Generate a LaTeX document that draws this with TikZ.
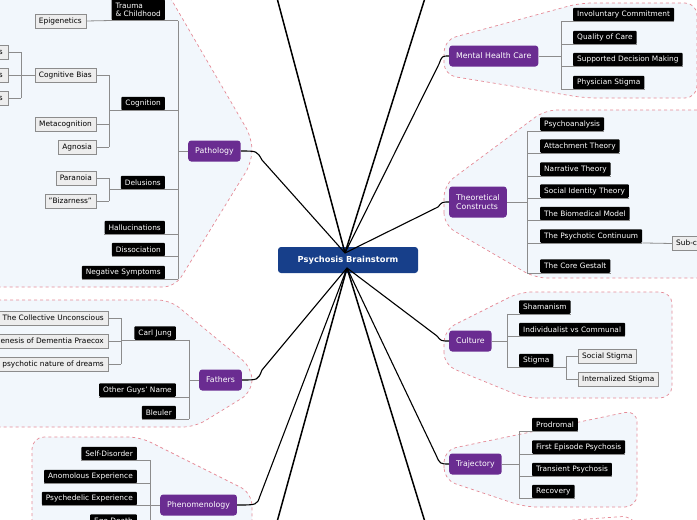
\documentclass[tikz,border=0pt]{standalone}
\usepackage{fontspec}
\setmainfont{DejaVu Sans}
\definecolor{topicc}{HTML}{6A2C91}
\definecolor{rootc}{HTML}{173F8A}
\definecolor{regc}{HTML}{F2F7FC}
\definecolor{regb}{HTML}{E58A96}
\begin{document}
\begin{tikzpicture}[x=1pt,y=-1pt,
  conn/.style={draw=black!45,line width=0.8pt},
  big/.style={line width=1.5pt,black},
  reg/.style={draw=regb,dashed,fill=regc,line width=0.7pt,rounded corners=12pt},
  sub/.style={fill=black,text=white,font=\fontsize{7.4}{8}\selectfont,inner xsep=4pt,inner ysep=0pt,minimum height=13.5pt,rounded corners=1pt},
  leaf/.style={fill=black!7,draw=black!45,text=black,font=\fontsize{7.4}{8}\selectfont,inner xsep=4pt,inner ysep=0pt,minimum height=14pt},
  topic/.style={fill=topicc,text=white,font=\fontsize{7.8}{9}\selectfont,inner xsep=7pt,inner ysep=0pt,minimum height=21pt,rounded corners=3pt,align=left},
  root/.style={fill=rootc,text=white,font=\bfseries\fontsize{8.3}{10}\selectfont,minimum width=140pt,minimum height=26pt,rounded corners=3pt}]
\useasboundingbox (0,0) rectangle (697,520);
\clip (0,0) rectangle (697,520);
% regions
\draw[reg] (-20,-20) -- (160,-20) -- (252,138) -- (252,162) -- (175,287) -- (-20,287);
\draw[reg] (-20,300) -- (170,300) -- (252,368) -- (252,392) -- (195,427) -- (-20,427);
\draw[reg] (32,540) -- (32,437) -- (140,437) -- (252,493) -- (252,540);
\draw[reg] (444,75) -- (444,40) -- (580,3) -- (697,3) -- (697,98) -- (585,98) -- cycle;
\draw[reg] (444,225) -- (444,185) -- (545,110) -- (720,110) -- (720,278) -- (535,278) -- cycle;
\draw[reg] (444,365) -- (444,330) -- (520,292) -- (672,292) -- (672,398) -- (525,398) -- cycle;
\draw[reg] (444,480) -- (444,450) -- (637,410) -- (637,507) -- (525,507) -- cycle;
\draw[draw=regb,dashed,line width=0.7pt,rounded corners=8pt] (560,521) -- (630,516) -- (640,530);
% root
\node[root] (root) at (348,260) {Psychosis Brainstorm};
% topics
\node[topic,anchor=west] (path) at (188,151) {Pathology};
\node[topic,anchor=west] (fath) at (199,380) {Fathers};
\node[topic,anchor=west] (phen) at (160,505) {Phenomenology};
\node[topic,anchor=west] (mhc) at (449,56) {Mental Health Care};
\node[topic,anchor=west,minimum height=31pt] (theo) at (449,202) {Theoretical\\Constructs};
\node[topic,anchor=west] (cult) at (449,341) {Culture};
\node[topic,anchor=west] (traj) at (449,464) {Trajectory};
% main lines
\coordinate (ct) at (345,253);
\coordinate (cb) at (347,268);
\draw[big] (ct) -- (277,-2);
\draw[big] (ct) -- (425,-2);
\draw[big] (cb) -- (277,522);
\draw[big] (cb) -- (425,522);
\draw[big,line width=1.1pt] (ct) -- (262,160) .. controls (257,151) .. (path.east);
\draw[big,line width=1.1pt] (cb) -- (262,370) .. controls (258,380) .. (fath.east);
\draw[big,line width=1.1pt] (cb) -- (260,496) .. controls (257,505) .. (phen.east);
\draw[big,line width=1.1pt] (ct) -- (439,64) .. controls (442,56) .. (449,56);
\draw[big,line width=1.1pt] (ct) -- (438,207) .. controls (442,202) .. (449,202);
\draw[big,line width=1.1pt] (cb) -- (437,336) .. controls (441,341) .. (449,341);
\draw[big,line width=1.1pt] (cb) -- (436,455) .. controls (440,464) .. (449,464);
% Pathology subtree
\node[sub,anchor=south east,align=left,minimum height=21pt,font=\fontsize{7.4}{7.5}\selectfont] (trau) at (165,20.5) {Trauma\\\& Childhood};
\node[sub,anchor=east] (cogn) at (165,103.5) {Cognition};
\node[sub,anchor=east] (delu) at (165,182.5) {Delusions};
\node[sub,anchor=east] (hall) at (165,227.5) {Hallucinations};
\node[sub,anchor=east] (diss) at (165,249.5) {Dissociation};
\node[sub,anchor=east] (nega) at (165,272.5) {Negative Symptoms};
\coordinate (ps) at (178,0);
\draw[conn] (path.west) -- (path.west-|ps);
\draw[conn] (trau.south east-|ps) -- (nega.south east-|ps);
\foreach \n in {trau,cogn,delu,hall,diss,nega} \draw[conn] (\n.south east-|ps) -- (\n.south east) -- (\n.south west);
\node[leaf,anchor=east] (epig) at (86,21) {Epigenetics};
\draw[conn] (epig.east) -- (trau.south west);
\node[leaf,anchor=east] (cbia) at (96,75) {Cognitive Bias};
\node[leaf,anchor=east] (meta) at (96,124.5) {Metacognition};
\node[leaf,anchor=east] (agno) at (96,147) {Agnosia};
\coordinate (cs) at (109,0);
\draw[conn] (cogn.south west) -- (cogn.south west-|cs);
\draw[conn] (cbia.east-|cs) -- (agno.east-|cs);
\foreach \n in {cbia,meta,agno} \draw[conn] (\n.east) -- (\n.east-|cs);
\node[leaf,anchor=east,minimum width=40pt,align=right,text width=30pt] (s1) at (8,52) {s};
\node[leaf,anchor=east,minimum width=40pt,align=right,text width=30pt] (s2) at (8,75) {s};
\node[leaf,anchor=east,minimum width=40pt,align=right,text width=30pt] (s3) at (8,98) {s};
\coordinate (bs) at (21,0);
\draw[conn] (cbia.west) -- (cbia.west-|bs);
\draw[conn] (s1.east-|bs) -- (s3.east-|bs);
\foreach \n in {s1,s2,s3} \draw[conn] (\n.east) -- (\n.east-|bs);
\node[leaf,anchor=east] (para) at (96,178) {Paranoia};
\node[leaf,anchor=east] (biza) at (96,201) {"Bizarness"};
\draw[conn] (delu.south west) -- (delu.south west-|cs);
\draw[conn] (para.east-|cs) -- (biza.east-|cs);
\foreach \n in {para,biza} \draw[conn] (\n.east) -- (\n.east-|cs);
% Fathers subtree
\node[sub,anchor=east] (jung) at (176,333) {Carl Jung};
\node[sub,anchor=east] (othe) at (176,390) {Other Guys' Name};
\node[sub,anchor=east] (bleu) at (176,412.5) {Bleuler};
\coordinate (fs) at (189,0);
\draw[conn] (fath.west) -- (fath.west-|fs);
\draw[conn] (jung.south east-|fs) -- (bleu.south east-|fs);
\foreach \n in {jung,othe,bleu} \draw[conn] (\n.south east-|fs) -- (\n.south east) -- (\n.south west);
\node[leaf,anchor=east] (j1) at (108,318) {The Collective Unconscious};
\node[leaf,anchor=east] (j2) at (108,341) {Pathogenesis of Dementia Praecox};
\node[leaf,anchor=east] (j3) at (108,364) {The psychotic nature of dreams};
\coordinate (js) at (121,0);
\draw[conn] (jung.south west) -- (jung.south west-|js);
\draw[conn] (j1.east-|js) -- (j3.east-|js);
\foreach \n in {j1,j2,j3} \draw[conn] (\n.east) -- (\n.east-|js);
% Phenomenology subtree
\node[sub,anchor=east] (self) at (137,453.5) {Self-Disorder};
\node[sub,anchor=east] (anom) at (137,476.5) {Anomolous Experience};
\node[sub,anchor=east] (psyc) at (137,498.5) {Psychedelic Experience};
\node[sub,anchor=east] (egod) at (137,521) {Ego Death};
\coordinate (hs) at (150,0);
\draw[conn] (phen.west) -- (phen.west-|hs);
\draw[conn] (self.south east-|hs) -- (egod.south east-|hs);
\foreach \n in {self,anom,psyc,egod} \draw[conn] (\n.south east-|hs) -- (\n.south east) -- (\n.south west);
% MHC subtree
\node[sub,anchor=west] (m1) at (573,14.5) {Involuntary Commitment};
\node[sub,anchor=west] (m2) at (573,37.5) {Quality of Care};
\node[sub,anchor=west] (m3) at (573,59.5) {Supported Decision Making};
\node[sub,anchor=west] (m4) at (573,82.5) {Physician Stigma};
\coordinate (msp) at (561,0);
\draw[conn] (mhc.east) -- (mhc.east-|msp);
\draw[conn] (m1.south west-|msp) -- (m4.south west-|msp);
\foreach \n in {m1,m2,m3,m4} \draw[conn] (\n.south west-|msp) -- (\n.south west) -- (\n.south east);
% Theoretical subtree
\node[sub,anchor=west] (t1) at (540,124) {Psychoanalysis};
\node[sub,anchor=west] (t2) at (540,146) {Attachment Theory};
\node[sub,anchor=west] (t3) at (540,169) {Narrative Theory};
\node[sub,anchor=west] (t4) at (540,191) {Social Identity Theory};
\node[sub,anchor=west] (t5) at (540,213.5) {The Biomedical Model};
\node[sub,anchor=west] (t6) at (540,236) {The Psychotic Continuum};
\node[sub,anchor=west] (t7) at (540,266) {The Core Gestalt};
\coordinate (tsp) at (527,0);
\draw[conn] (theo.east) -- (theo.east-|tsp);
\draw[conn] (t1.south west-|tsp) -- (t7.south west-|tsp);
\foreach \n in {t1,t2,t3,t4,t5,t6,t7} \draw[conn] (\n.south west-|tsp) -- (\n.south west) -- (\n.south east);
\node[leaf,anchor=west] (subc) at (672,243.5) {Sub-categories};
\draw[conn] (t6.south east) -- (subc.west);
% Culture subtree
\node[sub,anchor=west] (c1) at (519,307) {Shamanism};
\node[sub,anchor=west] (c2) at (519,329.5) {Individualist vs Communal};
\node[sub,anchor=west] (c3) at (519,360.5) {Stigma};
\coordinate (usp) at (507,0);
\draw[conn] (cult.east) -- (cult.east-|usp);
\draw[conn] (c1.south west-|usp) -- (c3.south west-|usp);
\foreach \n in {c1,c2,c3} \draw[conn] (\n.south west-|usp) -- (\n.south west) -- (\n.south east);
\node[leaf,anchor=west] (c31) at (578,356) {Social Stigma};
\node[leaf,anchor=west] (c32) at (578,379) {Internalized Stigma};
\coordinate (gsp) at (566,0);
\draw[conn] (c3.south east) -- (c3.south east-|gsp);
\draw[conn] (c31.west-|gsp) -- (c32.west-|gsp);
\foreach \n in {c31,c32} \draw[conn] (\n.west-|gsp) -- (\n.west);
% Trajectory subtree
\node[sub,anchor=west] (r1) at (532,424.5) {Prodromal};
\node[sub,anchor=west] (r2) at (532,447) {First Episode Psychosis};
\node[sub,anchor=west] (r3) at (532,469.5) {Transient Psychosis};
\node[sub,anchor=west] (r4) at (532,491.5) {Recovery};
\coordinate (rsp) at (519,0);
\draw[conn] (traj.east) -- (traj.east-|rsp);
\draw[conn] (r1.south west-|rsp) -- (r4.south west-|rsp);
\foreach \n in {r1,r2,r3,r4} \draw[conn] (\n.south west-|rsp) -- (\n.south west) -- (\n.south east);
\end{tikzpicture}
\end{document}
